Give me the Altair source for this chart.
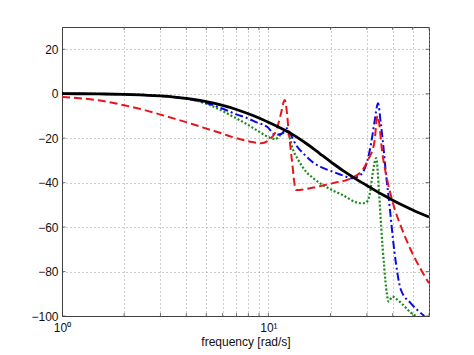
import altair as alt
import pandas as pd

# ---- data (frequency in rad/s, magnitude in dB) ----
black_f = [1, 1.5, 2, 2.5, 3, 3.5, 4, 4.5, 5, 6, 7, 8, 9, 10, 11, 12.3, 13.5, 15.2, 17, 18.3,
           20.5, 22.9, 26.5, 30, 33, 36, 40, 45, 50, 55, 60]
black_db = [0, -0.1, -0.3, -0.6, -1.0, -1.5, -2.1, -2.8, -3.6, -5.3, -7.1, -9.0, -10.9, -12.8,
            -14.6, -16.9, -19.1, -22.3, -25.6, -27.9, -31.3, -34.5, -38.3, -41.3, -43.6, -45.6,
            -47.9, -50.3, -52.3, -54.0, -55.5]

red_f = [1, 1.5, 2, 2.5, 3, 3.5, 4, 4.6, 5.25, 6, 6.6, 7.4, 8.2, 9.2, 10.3, 11.0, 11.5, 12.0,
         12.6, 13.0, 13.6, 15.2, 17, 19, 21, 23.7, 26.5, 28.5, 30.5, 32.6, 33.8, 35.8, 37.9,
         40.8, 44, 49, 54, 60]
red_db = [-1.5, -3.0, -5.2, -7.3, -9.4, -11.2, -12.8, -14.6, -16.3, -18.0, -19.3, -20.6, -21.6,
          -22.3, -20.0, -15.6, -9.0, -2.8, -18.6, -30.0, -43.3, -42.9, -42.0, -41.0, -40.0,
          -39.0, -37.0, -34.5, -29.5, -22.0, -10.0, -28.0, -40.0, -51.5, -60.0, -70.3, -78.0,
          -85.3]

blue_f = [1, 2, 3, 4, 5, 6.1, 7, 7.9, 8.7, 9.9, 10.8, 11.6, 12.3, 13.0, 13.6, 15, 16.3, 18,
          20.4, 23, 25.5, 28, 30.2, 31.5, 32.6, 34, 35, 35.8, 37.1, 38.6, 40.7, 43.9, 49, 53, 57]
blue_db = [0, -0.3, -1.0, -2.2, -4.2, -7.0, -9.3, -11.0, -12.8, -15.0, -18.5, -18.0, -15.6,
           -19.5, -23.0, -27.5, -30.6, -33.0, -35.0, -36.8, -38.0, -36.5, -30.0, -22.0, -13.3,
           -4.3, -13.0, -20.8, -35.8, -50.0, -70.3, -88.3, -94.3, -97.5, -100.0]

green_f = [1, 2, 3, 4, 5, 6, 6.8, 7.8, 8.8, 10.3, 10.8, 11.3, 12.3, 12.7, 13.1, 14, 15.2, 16.5,
           18.3, 20.5, 22.9, 26.5, 28.5, 29.7, 31, 32, 33.3, 34.4, 35.2, 36.4, 37.5, 38.2, 39.9,
           42, 45.5, 49, 52]
green_db = [0, -0.3, -1.0, -2.2, -4.5, -7.8, -10.5, -13.5, -16.5, -20.0, -20.5, -19.0, -17.0,
            -20.0, -24.6, -30.0, -35.0, -38.0, -41.0, -43.5, -45.6, -48.8, -49.3, -49.0, -45.0,
            -36.0, -29.0, -45.0, -60.0, -78.0, -90.0, -93.5, -91.3, -92.5, -95.5, -98.5, -100.0]

x_grid = [1, 2, 3, 4, 5, 6, 7, 8, 9, 10, 20, 30, 40, 50, 60]
y_ticks = [-100, -80, -60, -40, -20, 0, 20]

FONT = "Liberation Sans"
AX = "#404040"
W, H = 367, 289

xscale = alt.Scale(type="log", domain=[1, 60], nice=False)
yscale = alt.Scale(domain=[-100, 30], nice=False, zero=False)

xaxis = alt.Axis(values=x_grid, grid=True, ticks=False, domain=True,
                 labelExpr="datum.value == 1 ? '10⁰' : (datum.value == 10 ? '10¹' : '')",
                 labelFlush=False, labelOverlap=False, labelBound=False, labelPadding=6,
                 title="frequency [rad/s]", titlePadding=3)
yaxis = alt.Axis(values=y_ticks, grid=True, ticks=False, domain=True,
                 labelPadding=4, title=None, labelFlush=False, labelOverlap=False)


def series(f, db, color, width, dash=None):
    df = pd.DataFrame({"f": f, "db": db})
    kw = dict(color=color, strokeWidth=width, clip=True, interpolate="monotone")
    if dash is not None:
        kw["strokeDash"] = dash
    return alt.Chart(df).mark_line(**kw).encode(
        x=alt.X("f:Q", scale=xscale, axis=xaxis),
        y=alt.Y("db:Q", scale=yscale, axis=yaxis),
        order=alt.Order("f:Q"),
    )


# inward axis ticks (MATLAB style) on all four sides of the box
xt = pd.DataFrame({"f": x_grid})
yt = pd.DataFrame({"db": y_ticks})
tick_x_bottom = alt.Chart(xt).mark_tick(orient="vertical", color=AX, thickness=1, size=6,
                                        clip=True).encode(
    x=alt.X("f:Q", scale=xscale, axis=xaxis), y=alt.value(H))
tick_x_top = alt.Chart(xt).mark_tick(orient="vertical", color=AX, thickness=1, size=6,
                                     clip=True).encode(
    x=alt.X("f:Q", scale=xscale, axis=xaxis), y=alt.value(0))
tick_y_left = alt.Chart(yt).mark_tick(orient="horizontal", color=AX, thickness=1, size=7,
                                      clip=True).encode(
    y=alt.Y("db:Q", scale=yscale, axis=yaxis), x=alt.value(0))
tick_y_right = alt.Chart(yt).mark_tick(orient="horizontal", color=AX, thickness=1, size=7,
                                       clip=True).encode(
    y=alt.Y("db:Q", scale=yscale, axis=yaxis), x=alt.value(W))

chart = alt.layer(
    tick_x_bottom, tick_x_top, tick_y_left, tick_y_right,
    series(green_f, green_db, "#1a8a1a", 2.2, [2, 2]),
    series(blue_f, blue_db, "#0a0ae6", 2.0, [8, 3, 2, 3]),
    series(red_f, red_db, "#e8141c", 2.0, [8, 4]),
    series(black_f, black_db, "#000000", 2.8),
).properties(
    width=W, height=H,
    autosize=alt.AutoSizeParams(type="none"),
    padding={"left": 62, "top": 27, "right": 45, "bottom": 39},
    background="white",
).configure_view(
    stroke=AX, strokeWidth=1
).configure_axis(
    domainColor=AX, domainWidth=1,
    gridColor="#9a9a9a", gridDash=[1, 3], gridWidth=1, gridOpacity=1,
    labelFont=FONT, labelFontSize=12, labelColor="#111111",
    titleFont=FONT, titleFontSize=12, titleFontWeight="normal", titleColor="#111111",
)

chart.save("out.html", embed_options={"renderer": "svg", "actions": False})
